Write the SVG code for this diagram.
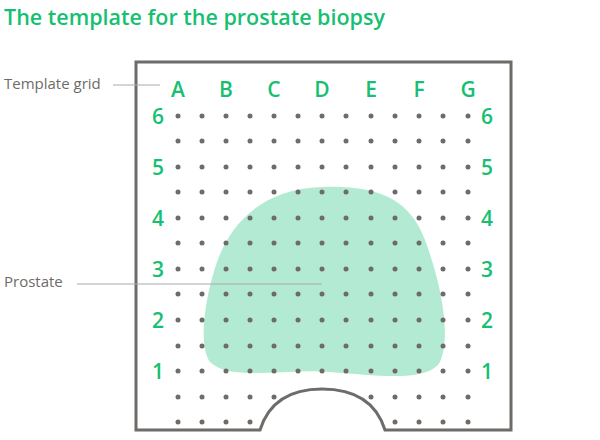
<svg xmlns="http://www.w3.org/2000/svg" width="600" height="440" viewBox="0 0 600 440">
<style>
.g{fill:#17bf72;font-family:"Open Sans","Liberation Sans",sans-serif;font-weight:600}
.lb{font-size:21px;text-anchor:middle}
.n{font-size:21px;text-anchor:middle}
.t{fill:#6e6b68;font-family:"Open Sans","Liberation Sans",sans-serif;font-size:15px}
.d{fill:#6e6b68}
</style>
<rect width="600" height="440" fill="#fff"/>
<text x="4" y="25" class="g" style="font-size:21.5px">The template for the prostate biopsy</text>
<g id="frame"><path d="M136,430 L260,430 C270,398 295,389 322,389 C350,389 375,398 385,430 L511,430 L511,62 L136,62 Z" fill="#fff" stroke="#6e6b68" stroke-width="3"/></g>
<g id="prostate"><path d="M322,187 C380,185 410,200 425,240 C440,280 452,335 440,362 C428,382 380,376 330,372 C290,368 230,382 210,362 C198,345 205,300 215,268 C226,232 255,189 322,187 Z" fill="#b3ead3"/></g>
<g id="grid" class="d">
<g id="r6"><circle cx="178" cy="116" r="2.5"/><circle cx="202" cy="116" r="2.5"/><circle cx="226" cy="116" r="2.5"/><circle cx="250" cy="116" r="2.5"/><circle cx="274" cy="116" r="2.5"/><circle cx="298" cy="116" r="2.5"/><circle cx="322" cy="116" r="2.5"/><circle cx="346" cy="116" r="2.5"/><circle cx="371" cy="116" r="2.5"/><circle cx="395" cy="116" r="2.5"/><circle cx="419" cy="116" r="2.5"/><circle cx="443" cy="116" r="2.5"/><circle cx="468" cy="116" r="2.5"/></g>
<g><circle cx="178" cy="141" r="2.5"/><circle cx="202" cy="141" r="2.5"/><circle cx="226" cy="141" r="2.5"/><circle cx="250" cy="141" r="2.5"/><circle cx="274" cy="141" r="2.5"/><circle cx="298" cy="141" r="2.5"/><circle cx="322" cy="141" r="2.5"/><circle cx="346" cy="141" r="2.5"/><circle cx="371" cy="141" r="2.5"/><circle cx="395" cy="141" r="2.5"/><circle cx="419" cy="141" r="2.5"/><circle cx="443" cy="141" r="2.5"/><circle cx="468" cy="141" r="2.5"/></g>
<g><circle cx="178" cy="167" r="2.5"/><circle cx="202" cy="167" r="2.5"/><circle cx="226" cy="167" r="2.5"/><circle cx="250" cy="167" r="2.5"/><circle cx="274" cy="167" r="2.5"/><circle cx="298" cy="167" r="2.5"/><circle cx="322" cy="167" r="2.5"/><circle cx="346" cy="167" r="2.5"/><circle cx="371" cy="167" r="2.5"/><circle cx="395" cy="167" r="2.5"/><circle cx="419" cy="167" r="2.5"/><circle cx="443" cy="167" r="2.5"/><circle cx="468" cy="167" r="2.5"/></g>
<g><circle cx="178" cy="192" r="2.5"/><circle cx="202" cy="192" r="2.5"/><circle cx="226" cy="192" r="2.5"/><circle cx="250" cy="192" r="2.5"/><circle cx="274" cy="192" r="2.5"/><circle cx="298" cy="192" r="2.5"/><circle cx="322" cy="192" r="2.5"/><circle cx="346" cy="192" r="2.5"/><circle cx="371" cy="192" r="2.5"/><circle cx="395" cy="192" r="2.5"/><circle cx="419" cy="192" r="2.5"/><circle cx="443" cy="192" r="2.5"/><circle cx="468" cy="192" r="2.5"/></g>
<g><circle cx="178" cy="218" r="2.5"/><circle cx="202" cy="218" r="2.5"/><circle cx="226" cy="218" r="2.5"/><circle cx="250" cy="218" r="2.5"/><circle cx="274" cy="218" r="2.5"/><circle cx="298" cy="218" r="2.5"/><circle cx="322" cy="218" r="2.5"/><circle cx="346" cy="218" r="2.5"/><circle cx="371" cy="218" r="2.5"/><circle cx="395" cy="218" r="2.5"/><circle cx="419" cy="218" r="2.5"/><circle cx="443" cy="218" r="2.5"/><circle cx="468" cy="218" r="2.5"/></g>
<g><circle cx="178" cy="243" r="2.5"/><circle cx="202" cy="243" r="2.5"/><circle cx="226" cy="243" r="2.5"/><circle cx="250" cy="243" r="2.5"/><circle cx="274" cy="243" r="2.5"/><circle cx="298" cy="243" r="2.5"/><circle cx="322" cy="243" r="2.5"/><circle cx="346" cy="243" r="2.5"/><circle cx="371" cy="243" r="2.5"/><circle cx="395" cy="243" r="2.5"/><circle cx="419" cy="243" r="2.5"/><circle cx="443" cy="243" r="2.5"/><circle cx="468" cy="243" r="2.5"/></g>
<g><circle cx="178" cy="269" r="2.5"/><circle cx="202" cy="269" r="2.5"/><circle cx="226" cy="269" r="2.5"/><circle cx="250" cy="269" r="2.5"/><circle cx="274" cy="269" r="2.5"/><circle cx="298" cy="269" r="2.5"/><circle cx="322" cy="269" r="2.5"/><circle cx="346" cy="269" r="2.5"/><circle cx="371" cy="269" r="2.5"/><circle cx="395" cy="269" r="2.5"/><circle cx="419" cy="269" r="2.5"/><circle cx="443" cy="269" r="2.5"/><circle cx="468" cy="269" r="2.5"/></g>
<g><circle cx="178" cy="294" r="2.5"/><circle cx="202" cy="294" r="2.5"/><circle cx="226" cy="294" r="2.5"/><circle cx="250" cy="294" r="2.5"/><circle cx="274" cy="294" r="2.5"/><circle cx="298" cy="294" r="2.5"/><circle cx="322" cy="294" r="2.5"/><circle cx="346" cy="294" r="2.5"/><circle cx="371" cy="294" r="2.5"/><circle cx="395" cy="294" r="2.5"/><circle cx="419" cy="294" r="2.5"/><circle cx="443" cy="294" r="2.5"/><circle cx="468" cy="294" r="2.5"/></g>
<g><circle cx="178" cy="320" r="2.5"/><circle cx="202" cy="320" r="2.5"/><circle cx="226" cy="320" r="2.5"/><circle cx="250" cy="320" r="2.5"/><circle cx="274" cy="320" r="2.5"/><circle cx="298" cy="320" r="2.5"/><circle cx="322" cy="320" r="2.5"/><circle cx="346" cy="320" r="2.5"/><circle cx="371" cy="320" r="2.5"/><circle cx="395" cy="320" r="2.5"/><circle cx="419" cy="320" r="2.5"/><circle cx="443" cy="320" r="2.5"/><circle cx="468" cy="320" r="2.5"/></g>
<g><circle cx="178" cy="346" r="2.5"/><circle cx="202" cy="346" r="2.5"/><circle cx="226" cy="346" r="2.5"/><circle cx="250" cy="346" r="2.5"/><circle cx="274" cy="346" r="2.5"/><circle cx="298" cy="346" r="2.5"/><circle cx="322" cy="346" r="2.5"/><circle cx="346" cy="346" r="2.5"/><circle cx="371" cy="346" r="2.5"/><circle cx="395" cy="346" r="2.5"/><circle cx="419" cy="346" r="2.5"/><circle cx="443" cy="346" r="2.5"/><circle cx="468" cy="346" r="2.5"/></g>
<g><circle cx="178" cy="371" r="2.5"/><circle cx="202" cy="371" r="2.5"/><circle cx="226" cy="371" r="2.5"/><circle cx="250" cy="371" r="2.5"/><circle cx="274" cy="371" r="2.5"/><circle cx="298" cy="371" r="2.5"/><circle cx="322" cy="371" r="2.5"/><circle cx="346" cy="371" r="2.5"/><circle cx="371" cy="371" r="2.5"/><circle cx="395" cy="371" r="2.5"/><circle cx="419" cy="371" r="2.5"/><circle cx="443" cy="371" r="2.5"/><circle cx="468" cy="371" r="2.5"/></g>
<g><circle cx="178" cy="397" r="2.5"/><circle cx="202" cy="397" r="2.5"/><circle cx="226" cy="397" r="2.5"/><circle cx="250" cy="397" r="2.5"/><circle cx="274" cy="397" r="2.5"/><circle cx="371" cy="397" r="2.5"/><circle cx="395" cy="397" r="2.5"/><circle cx="419" cy="397" r="2.5"/><circle cx="443" cy="397" r="2.5"/><circle cx="468" cy="397" r="2.5"/></g>
<g><circle cx="178" cy="422" r="2.5"/><circle cx="202" cy="422" r="2.5"/><circle cx="226" cy="422" r="2.5"/><circle cx="250" cy="422" r="2.5"/><circle cx="395" cy="422" r="2.5"/><circle cx="419" cy="422" r="2.5"/><circle cx="443" cy="422" r="2.5"/><circle cx="468" cy="422" r="2.5"/></g>
</g>
<g id="cols" class="g lb">
<text x="178" y="97">A</text><text x="226" y="97">B</text><text x="274" y="97">C</text><text x="322" y="97">D</text><text x="371" y="97">E</text><text x="419" y="97">F</text><text x="468" y="97">G</text>
</g>
<g id="rows" class="g n">
<text x="158" y="124">6</text><text x="158" y="175">5</text><text x="158" y="226">4</text><text x="158" y="277">3</text><text x="158" y="328">2</text><text x="158" y="379">1</text>
<text x="487" y="124">6</text><text x="487" y="175">5</text><text x="487" y="226">4</text><text x="487" y="277">3</text><text x="487" y="328">2</text><text x="487" y="379">1</text>
</g>
<g id="connectors" stroke="#aaa" stroke-width="1">
<line x1="113" y1="85" x2="160" y2="85"/>
<line x1="77" y1="284" x2="322" y2="284"/>
</g>
<g id="labels">
<text x="4" y="89" class="t">Template grid</text>
<text x="4" y="287" class="t">Prostate</text>
</g>
</svg>
